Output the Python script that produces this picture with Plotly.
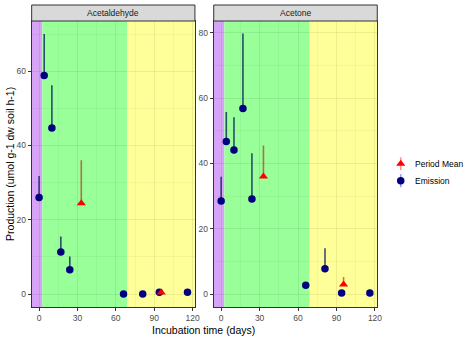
import plotly.graph_objects as go

# ---- data ----
days = [0, 4, 10, 17, 24, 66, 81, 94, 116]
acetaldehyde_emission = [26.0, 58.8, 44.7, 11.3, 6.5, 0.0, 0.0, 0.5, 0.5]
acetaldehyde_emission_upper = [31.8, 70.0, 56.2, 15.5, 10.1, 0.0, 0.0, 0.5, 0.5]
acetone_emission = [28.5, 46.7, 44.1, 56.8, 29.1, 2.7, 7.7, 0.3, 0.3]
acetone_emission_upper = [35.9, 55.7, 54.1, 79.8, 43.1, 3.4, 14.0, 0.3, 0.3]

mean_days = [33, 95.5]
acetaldehyde_mean = [24.4, 0.4]
acetaldehyde_mean_upper = [36.0, 0.4]
acetone_mean = [36.0, 2.9]
acetone_mean_upper = [45.5, 5.2]

phase_edges = [2.5, 69]  # pre-incubation | active | late phase
panels = ["Acetaldehyde", "Acetone"]

# ---- style ----
W, H = 474, 338
FONT = "Liberation Sans, Arial, sans-serif"
PURPLE = "#D6A3F7"
GREEN = "#99FF99"
YELLOW = "#FFFF99"
BORDER = "#333333"
NAVY = "#000080"
RED = "#FF0000"
EMIS_LINE = "rgba(0,20,90,0.75)"
MEAN_LINE = "rgba(190,20,0,0.6)"

def px_x(p):
    return p / W

def px_y(p):
    return 1 - p / H

panel_x = [(32, 197), (216, 381.3)]
plot_top, plot_bottom = 21, 307
strip_top = 5
xr = [-5.8, 121.8]
yranges = [[-3.5, 73.5], [-3.98, 83.6]]

fig = go.Figure()

series = [
    (acetaldehyde_emission, acetaldehyde_emission_upper, acetaldehyde_mean, acetaldehyde_mean_upper),
    (acetone_emission, acetone_emission_upper, acetone_mean, acetone_mean_upper),
]

for i, (em, em_up, mn, mn_up) in enumerate(series):
    xa = "x" if i == 0 else "x2"
    ya = "y" if i == 0 else "y2"
    fig.add_trace(go.Scatter(
        x=days, y=em, xaxis=xa, yaxis=ya, mode="markers", showlegend=False,
        marker=dict(symbol="circle", size=7.5, color=NAVY),
        error_y=dict(type="data", symmetric=False,
                     array=[u - v for u, v in zip(em_up, em)],
                     arrayminus=[0] * len(em),
                     width=0, thickness=1.6, color=EMIS_LINE),
        cliponaxis=False,
    ))
    fig.add_trace(go.Scatter(
        x=mean_days, y=mn, xaxis=xa, yaxis=ya, mode="markers", showlegend=False,
        marker=dict(symbol="triangle-up", size=8, color=RED),
        error_y=dict(type="data", symmetric=False,
                     array=[u - v for u, v in zip(mn_up, mn)],
                     arrayminus=[0] * len(mn),
                     width=0, thickness=1.6, color=MEAN_LINE),
        cliponaxis=False,
    ))

# legend keys drawn in a small auxiliary axis
fig.add_trace(go.Scatter(
    x=[0], y=[26.3], xaxis="x3", yaxis="y3", mode="markers", showlegend=False,
    marker=dict(symbol="triangle-up", size=8, color=RED),
    error_y=dict(type="constant", value=6.5, width=0, thickness=1.6, color="rgba(255,60,60,0.55)"),
))
fig.add_trace(go.Scatter(
    x=[0], y=[9.3], xaxis="x3", yaxis="y3", mode="markers", showlegend=False,
    marker=dict(symbol="circle", size=7.5, color=NAVY),
    error_y=dict(type="constant", value=6.5, width=0, thickness=1.6, color="rgba(60,60,200,0.5)"),
))

shapes = []
annotations = []
colors = [PURPLE, GREEN, YELLOW]
for i in range(2):
    xref = "x" if i == 0 else "x2"
    yref = ("y" if i == 0 else "y2") + " domain"
    edges = [xr[0]] + phase_edges + [xr[1]]
    for j in range(3):
        shapes.append(dict(type="rect", xref=xref, yref=yref, x0=edges[j], x1=edges[j + 1],
                           y0=0, y1=1, fillcolor=colors[j], line=dict(width=0), layer="below"))
    x0, x1 = panel_x[i]
    shapes.append(dict(type="rect", xref="paper", yref="paper",
                       x0=px_x(x0), x1=px_x(x1), y0=px_y(plot_top), y1=px_y(strip_top),
                       fillcolor="#D9D9D9", line=dict(color=BORDER, width=1)))
    annotations.append(dict(text=panels[i], xref="paper", yref="paper",
                            x=px_x((x0 + x1) / 2), y=px_y((plot_top + strip_top) / 2),
                            showarrow=False, font=dict(family=FONT, size=8.5, color="#1A1A1A"),
                            xanchor="center", yanchor="middle"))

annotations += [
    dict(text="Production (umol g-1 dw soil h-1)", xref="paper", yref="paper",
         x=px_x(10), y=px_y((plot_top + plot_bottom) / 2), textangle=-90, showarrow=False,
         font=dict(family=FONT, size=10.5, color="black"), xanchor="center", yanchor="middle"),
    dict(text="Incubation time (days)", xref="paper", yref="paper",
         x=px_x(206), y=px_y(329.5), showarrow=False,
         font=dict(family=FONT, size=10.5, color="black"), xanchor="center", yanchor="middle"),
    dict(text="Period Mean", xref="paper", yref="paper", x=px_x(417), y=px_y(163.7),
         showarrow=False, font=dict(family=FONT, size=8.5, color="black"),
         xanchor="left", yanchor="middle"),
    dict(text="Emission", xref="paper", yref="paper", x=px_x(417), y=px_y(180.7),
         showarrow=False, font=dict(family=FONT, size=8.5, color="black"),
         xanchor="left", yanchor="middle"),
]

def xaxis(i):
    return dict(
        domain=[px_x(panel_x[i][0]), px_x(panel_x[i][1])],
        anchor="y" if i == 0 else "y2",
        range=xr, tickvals=[0, 30, 60, 90, 120],
        showgrid=True, gridcolor="rgba(0,0,0,0.07)", gridwidth=1,
        minor=dict(tickvals=[15, 45, 75, 105], showgrid=True, gridcolor="rgba(0,0,0,0.04)", gridwidth=0.6),
        zeroline=False, showline=True, mirror=True, linecolor=BORDER, linewidth=1,
        ticks="outside", ticklen=3, tickcolor=BORDER, tickwidth=1,
        ticklabelstandoff=0,
        tickfont=dict(family=FONT, size=8.5, color="#4D4D4D"),
    )

def yaxis(i):
    return dict(
        domain=[px_y(plot_bottom), px_y(plot_top)],
        anchor="x" if i == 0 else "x2",
        range=yranges[i], dtick=20, tick0=0,
        showgrid=True, gridcolor="rgba(0,0,0,0.07)", gridwidth=1,
        minor=dict(dtick=10, tick0=10, showgrid=True, gridcolor="rgba(0,0,0,0.04)", gridwidth=0.6),
        zeroline=False, showline=True, mirror=True, linecolor=BORDER, linewidth=1,
        ticks="outside", ticklen=3, tickcolor=BORDER, tickwidth=1,
        tickfont=dict(family=FONT, size=8.5, color="#4D4D4D"),
    )

fig.update_layout(
    width=W, height=H, margin=dict(l=0, r=0, t=0, b=0),
    paper_bgcolor="white", plot_bgcolor="white",
    xaxis=xaxis(0), yaxis=yaxis(0), xaxis2=xaxis(1), yaxis2=yaxis(1),
    xaxis3=dict(domain=[px_x(398), px_x(412)], anchor="y3", range=[-1, 1], visible=False),
    yaxis3=dict(domain=[px_y(190), px_y(155)], anchor="x3", range=[0, 35], visible=False),
    shapes=shapes, annotations=annotations, showlegend=False,
)

fig.write_html("out.html")
